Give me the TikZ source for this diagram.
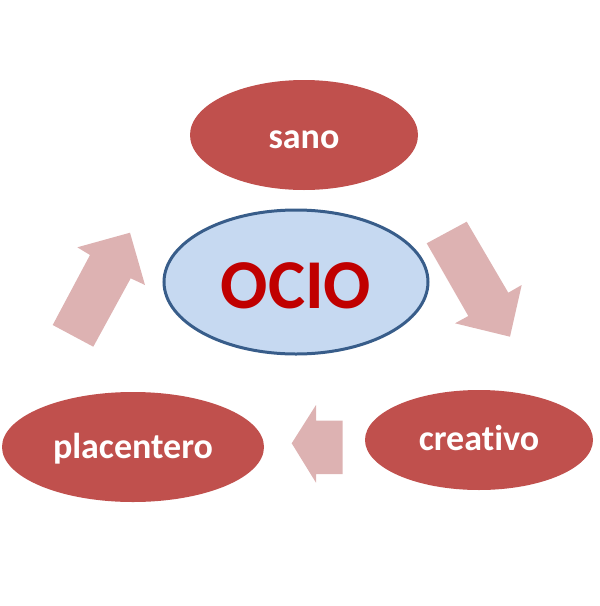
\documentclass[tikz,border=0pt]{standalone}
\usepackage{fontspec}
\setmainfont[Ligatures=NoCommon]{Carlito}
\usetikzlibrary{shapes.geometric}
\definecolor{redfill}{RGB}{192,80,77}
\definecolor{bluefill}{RGB}{198,217,241}
\definecolor{blueline}{RGB}{56,93,138}
\definecolor{ociored}{RGB}{192,0,0}
\definecolor{arrowfill}{RGB}{221,178,178}
\tikzset{
  redell/.style={ellipse, fill=redfill, inner sep=0pt, text depth=0pt, text=white, font=\fontsize{36}{42}\selectfont\bfseries},
  blockarrow/.style={fill=arrowfill, draw=none},
}
\begin{document}
\begin{tikzpicture}[x=1pt,y=-1pt]
\useasboundingbox (0,0) rectangle (600,606);
% block arrows
\fill[blockarrow] (52.7,325) -- (90,255) -- (77.3,247.3) -- (130,232.7) -- (145,285) -- (130.7,278.3) -- (93.3,346.7) -- cycle;
\fill[blockarrow] (426.7,243.3) -- (466.7,221.7) -- (508.3,292.7) -- (521.7,285) -- (510,336.7) -- (455,323.3) -- (468.3,316) -- cycle;
\fill[blockarrow] (342.7,420.7) -- (342.7,474) -- (316,474) -- (316,482.7) -- (291.7,443.3) -- (316,405) -- (316,420.7) -- cycle;
% ellipses
\node[redell, text height=26pt, minimum width=228pt, minimum height=110pt] (sano) at (304,135) {sano};
\node[ellipse, fill=bluefill, draw=blueline, line width=3pt, inner sep=0pt,
      minimum width=264pt, minimum height=144pt, text=ociored, text height=52pt, text depth=0pt,
      font=\fontsize{70}{80}\selectfont\bfseries] (ocio) at (296,282) {OCIO};
\node[redell, text height=20pt, minimum width=228pt, minimum height=100pt] (creativo) at (479,440) {creativo};
\node[redell, text height=22pt, minimum width=262pt, minimum height=110pt] (placentero) at (133,447) {placentero};
\end{tikzpicture}
\end{document}
